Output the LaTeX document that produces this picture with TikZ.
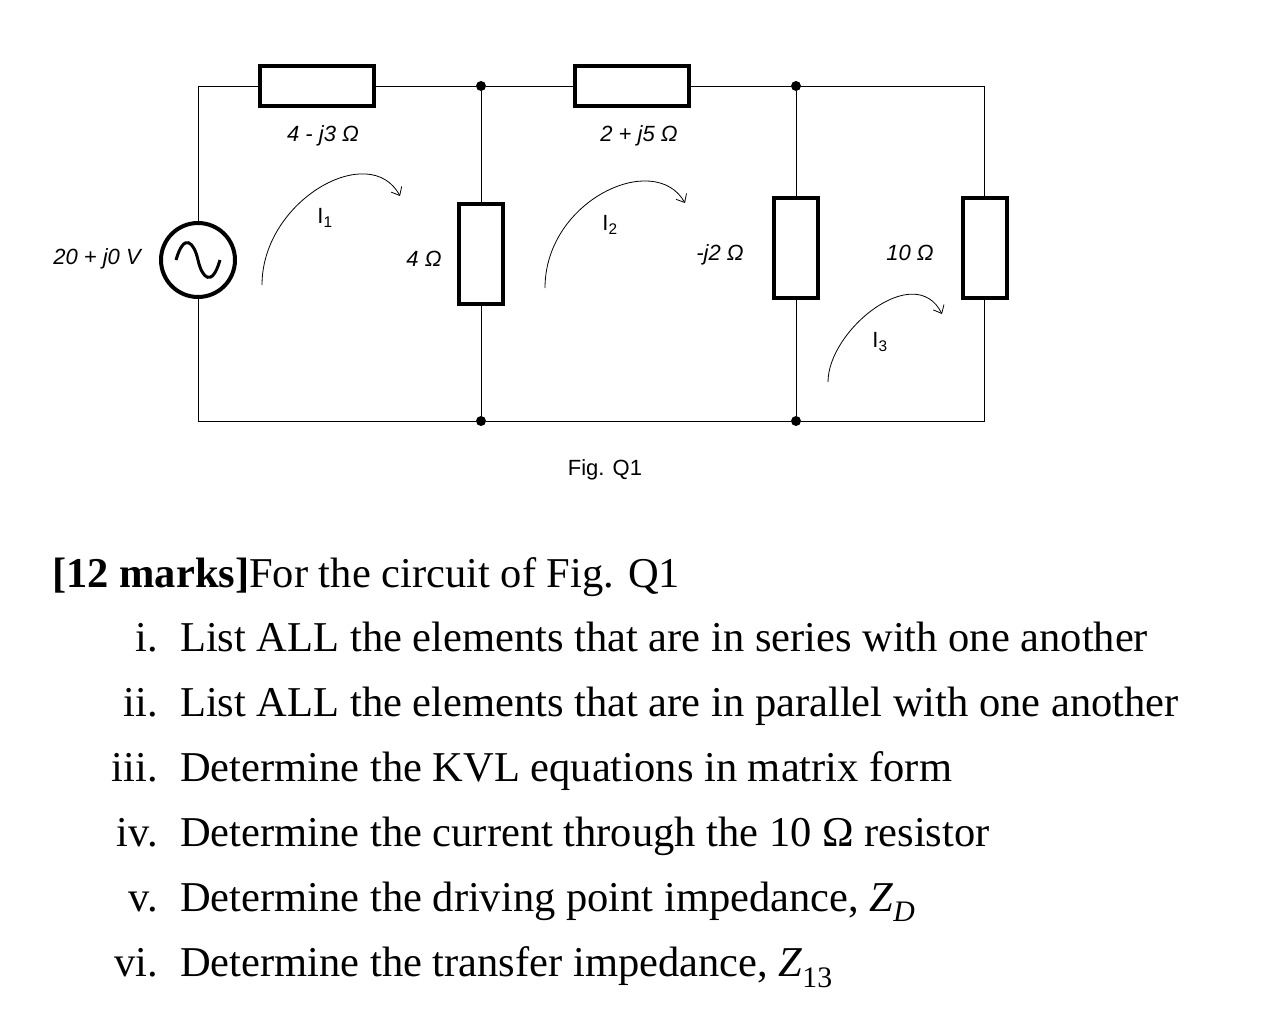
\documentclass[tikz,border=0pt]{standalone}
\usepackage{fontspec}
\setmainfont{Liberation Serif}
\newfontfamily\lab{Liberation Sans}
\usetikzlibrary{arrows.meta}
\begin{document}
\begin{tikzpicture}[x=1pt,y=-1pt,
  wire/.style={line width=1pt},
  res/.style={draw,line width=3.5pt,fill=white},
  lbl/.style={font=\lab\fontsize{22}{26}\selectfont},
  cur/.style={line width=0.8pt,-{Straight Barb[length=7pt,width=12pt]}},
  dotn/.style={circle,fill,inner sep=0pt,minimum size=10pt},
  txt/.style={font=\fontsize{42.5}{50}\selectfont,anchor=base west,inner sep=0pt},
  num/.style={font=\fontsize{42.5}{50}\selectfont,anchor=base east,inner sep=0pt}]
\useasboundingbox (0,0) rectangle (1281,1017);
\coordinate (TL) at (198,86); \coordinate (BL) at (198,421);
\coordinate (TR) at (984,86); \coordinate (BR) at (984,421);
\node[dotn] (n1) at (481,86) {}; \node[dotn] (n2) at (796,86) {};
\node[dotn] (n3) at (481,421) {}; \node[dotn] (n4) at (796,421) {};
\node[circle,draw,line width=4pt,minimum size=74pt,inner sep=0pt] (src) at (198,260) {};
\draw[wire] (src.north) -- (TL) -- (n1) -- (n2) -- (TR) -- (BR) -- (n4) -- (n3) -- (BL) -- (src.south);
\draw[wire] (n1) -- (n3); \draw[wire] (n2) -- (n4);
\draw[line width=3pt] (176,260) .. controls (184,232) and (194,242) .. (198,260) .. controls (202,278) and (212,288) .. (220,260);
\node[res,minimum width=114pt,minimum height=40pt] (r1) at (317,86) {};
\node[res,minimum width=114pt,minimum height=40pt] (r2) at (632,86) {};
\node[res,minimum width=44pt,minimum height=100pt] (r3) at (481,254) {};
\node[res,minimum width=44pt,minimum height=100pt] (r4) at (796,248) {};
\node[res,minimum width=44pt,minimum height=100pt] (r5) at (985,248) {};
\node[lbl] (l1) at (323,136) {\itshape 4 - j3 Ω};
\node[lbl] (l2) at (639,136) {\itshape 2 + j5 Ω};
\node[lbl] (l3) at (424,259) {\itshape 4 Ω};
\node[lbl] (l4) at (720,255) {\itshape -j2 Ω};
\node[lbl] (l5) at (910,253) {\itshape 10 Ω};
\node[lbl] (l6) at (97,259) {\itshape 20 + j0 V};
\node[lbl] (fig) at (605,470) {Fig. Q1};
\coordinate (a1s) at (262,285); \coordinate (a1e) at (400,196);
\coordinate (a2s) at (545,288); \coordinate (a2e) at (685,203);
\coordinate (a3s) at (828,382); \coordinate (a3e) at (942,314);
\draw[cur] (a1s) .. controls (262,200) and (370,140) .. (a1e);
\draw[cur] (a2s) .. controls (545,200) and (655,150) .. (a2e);
\draw[cur] (a3s) .. controls (828,330) and (915,260) .. (a3e);
\node[lbl] (i1) at (325,218) {I\textsubscript{1}};
\node[lbl] (i2) at (610,225) {I\textsubscript{2}};
\node[lbl] (i3) at (880,342) {I\textsubscript{3}};
\node[txt] (t0) at (52,587) {\textbf{[12 marks]}For the circuit of Fig. Q1};
\foreach \n/\t/\y in {i./List ALL the elements that are in series with one another/651,
  ii./List ALL the elements that are in parallel with one another/716,
  iii./Determine the KVL equations in matrix form/781,
  iv./Determine the current through the 10 Ω resistor/846,
  v./{Determine the driving point impedance, \textit{Z}\textsubscript{\textit{D}}}/911,
  vi./{Determine the transfer impedance, \textit{Z}\textsubscript{13}}/976}{
  \node[num] at (158,\y) {\n};
  \node[txt] at (180,\y) {\t};
}
\end{tikzpicture}
\end{document}
